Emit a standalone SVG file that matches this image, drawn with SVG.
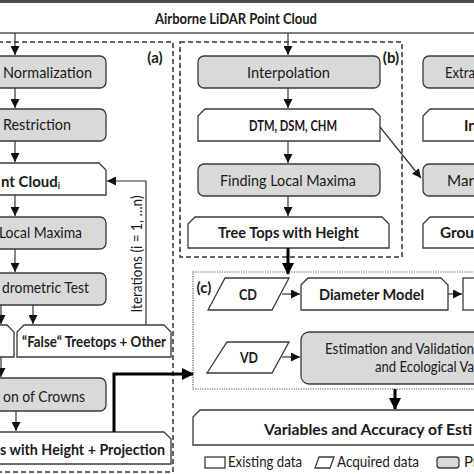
<svg xmlns="http://www.w3.org/2000/svg" width="474" height="474" viewBox="0 0 474 474">
<defs>
<style>
.g{fill:#d9d9d9;stroke:#3a3a3a;stroke-width:1.3}
.w{fill:#fff;stroke:#3a3a3a;stroke-width:1.3}
.t{font-family:Lato,"Liberation Sans",sans-serif;font-size:15px;fill:#1a1a1a}
.b{font-weight:bold}
.ln{stroke:#333;stroke-width:1.2;fill:none}
.thick{stroke:#000;stroke-width:3;fill:none}
.dash{fill:none;stroke:#333;stroke-width:1.5;stroke-dasharray:5 3}
.dot{fill:none;stroke:#555;stroke-width:1.2;stroke-dasharray:1.2 1.2}
</style>
<marker id="a" markerUnits="userSpaceOnUse" markerWidth="9" markerHeight="9" refX="9" refY="4.5" orient="auto"><path d="M0,0 L9,4.5 L0,9 z" fill="#111"/></marker>
<marker id="ta" markerUnits="userSpaceOnUse" markerWidth="12" markerHeight="12" refX="11" refY="6" orient="auto"><path d="M0,0 L12,6 L0,12 z" fill="#000"/></marker>
</defs>
<rect width="474" height="474" fill="#fff"/>
<!-- header -->
<g id="header">
<rect x="0" y="0" width="474" height="3" fill="#4d4d4d"/>
<line x1="0" y1="33" x2="474" y2="33" stroke="#555" stroke-width="1.5"/>
<text class="t b" x="155" y="24" font-size="14" textLength="162" lengthAdjust="spacingAndGlyphs">Airborne LiDAR Point Cloud</text>
</g>
<!-- panels -->
<g id="panelA"><rect class="dash" x="-10" y="42" width="183" height="430"/><text class="t b" x="155" y="63" text-anchor="middle" font-size="16">(a)</text></g>
<g id="panelB"><rect class="dash" x="180" y="42" width="222" height="215"/><text class="t b" x="391" y="63" text-anchor="middle" font-size="16">(b)</text></g>
<g id="panelC"><rect class="dot" x="193" y="272" width="290" height="117"/><text class="t b" x="204" y="293" text-anchor="middle" font-size="16">(c)</text></g>
<!-- left column -->
<g id="normalization"><rect class="g" x="-12" y="56" width="118" height="32" rx="6"/><text class="t" x="3" y="78" textLength="89" lengthAdjust="spacingAndGlyphs">Normalization</text></g>
<g id="restriction"><rect class="g" x="-12" y="109" width="118" height="32" rx="6"/><text class="t" x="3" y="130" textLength="68" lengthAdjust="spacingAndGlyphs">Restriction</text></g>
<g id="pointcloud"><path class="w" d="M-12,163 L99,163 L106,170 L106,195 L-12,195 Z"/><text class="t b" x="1" y="187">nt Cloud<tspan font-size="9" dy="2">i</tspan></text></g>
<g id="localmaxima"><rect class="g" x="-12" y="217" width="118" height="32" rx="6"/><text class="t" x="-1" y="238" textLength="83" lengthAdjust="spacingAndGlyphs">Local Maxima</text></g>
<g id="dendro"><rect class="g" x="-12" y="273" width="118" height="32" rx="6"/><text class="t" x="2" y="293" textLength="87" lengthAdjust="spacingAndGlyphs">drometric Test</text></g>
<g id="trueTops"><path class="w" d="M-12,325 L7,325 L14,332 L14,357 L-12,357 Z"/></g>
<g id="falseTops"><path class="w" d="M17,332 L24,325 L164,325 L171,332 L171,357 L17,357 Z"/><text class="t b" x="22" y="347" textLength="144" lengthAdjust="spacingAndGlyphs">“False“ Treetops + Other</text></g>
<g id="crowns"><rect class="g" x="-12" y="378" width="118" height="33" rx="6"/><text class="t" x="3" y="402" textLength="82" lengthAdjust="spacingAndGlyphs">on of Crowns</text></g>
<g id="final"><path class="w" d="M-12,432 L164,432 L171,439 L171,464 L-12,464 Z"/><text class="t b" x="0" y="455" textLength="165" lengthAdjust="spacingAndGlyphs">s with Height + Projection</text></g>
<!-- middle column -->
<g id="interpolation"><rect class="g" x="198" y="56" width="182" height="32" rx="6"/><text class="t" x="247" y="78" textLength="83" lengthAdjust="spacingAndGlyphs">Interpolation</text></g>
<g id="dtm"><path class="w" d="M198,116 L205,109 L373,109 L380,116 L380,141 L198,141 Z"/><text class="t b" x="249" y="131" textLength="88" lengthAdjust="spacingAndGlyphs">DTM, DSM, CHM</text></g>
<g id="finding"><rect class="g" x="198" y="164" width="182" height="32" rx="6"/><text class="t" x="220" y="186" textLength="136" lengthAdjust="spacingAndGlyphs">Finding Local Maxima</text></g>
<g id="treetops"><path class="w" d="M188,224 L195,217 L382,217 L389,224 L389,248 L188,248 Z"/><text class="t b" x="218" y="238" textLength="141" lengthAdjust="spacingAndGlyphs">Tree Tops with Height</text></g>
<!-- right column -->
<g id="extra"><rect class="g" x="423" y="56" width="70" height="32" rx="6"/><text class="t" x="445" y="78" textLength="30" lengthAdjust="spacingAndGlyphs">Extra</text></g>
<g id="in"><path class="w" d="M423,116 L430,109 L490,109 L490,141 L423,141 Z"/><text class="t b" x="464" y="131">In</text></g>
<g id="mar"><rect class="g" x="423" y="164" width="70" height="32" rx="6"/><text class="t" x="447" y="186" textLength="27" lengthAdjust="spacingAndGlyphs">Mar</text></g>
<g id="grou"><path class="w" d="M423,224 L430,217 L490,217 L490,248 L423,248 Z"/><text class="t b" x="440" y="238" textLength="34" lengthAdjust="spacingAndGlyphs">Grou</text></g>
<!-- panel c -->
<g id="cd"><path class="w" d="M225,278 L289,278 L272,310 L208,310 Z"/><text class="t b" x="239" y="300" textLength="18" lengthAdjust="spacingAndGlyphs">CD</text></g>
<g id="diameter"><path class="w" d="M301,285 L308,278 L441,278 L448,285 L448,310 L301,310 Z"/><text class="t b" x="319" y="300" textLength="105" lengthAdjust="spacingAndGlyphs">Diameter Model</text></g>
<g id="nextbox"><rect class="w" x="463" y="278" width="30" height="32"/></g>
<g id="vd"><path class="w" d="M227,342 L289,342 L272,373 L207,373 Z"/><text class="t b" x="240" y="363" textLength="18" lengthAdjust="spacingAndGlyphs">VD</text></g>
<g id="estimation"><rect class="g" x="301" y="332" width="190" height="52" rx="8"/><text class="t" x="325" y="354" textLength="149" lengthAdjust="spacingAndGlyphs">Estimation and Validation</text><text class="t" x="375" y="372" textLength="99" lengthAdjust="spacingAndGlyphs">and Ecological Va</text></g>
<g id="variables"><path class="w" d="M193,417 L200,410 L490,410 L490,445 L193,445 Z"/><text class="t b" x="264" y="435" font-size="18" textLength="208" lengthAdjust="spacingAndGlyphs">Variables and Accuracy of Esti</text></g>
<!-- legend -->
<g id="legend">
<rect class="w" x="205" y="457" width="20" height="11" stroke-width="1.1"/><text class="t" x="228" y="467" font-size="14" textLength="74" lengthAdjust="spacingAndGlyphs">Existing data</text>
<path class="w" d="M319,457 L334,457 L330,468 L315,468 Z" stroke-width="1.1"/><text class="t" x="337" y="467" font-size="14" textLength="82" lengthAdjust="spacingAndGlyphs">Acquired data</text>
<rect class="g" x="437" y="457" width="22" height="11" rx="3" stroke-width="1.1"/><text class="t" x="464" y="467" font-size="14">Pr</text>
</g>
<!-- connectors -->
<g id="connectors">
<line class="ln" x1="15" y1="33" x2="15" y2="55" marker-end="url(#a)"/>
<line class="ln" x1="15" y1="88" x2="15" y2="108" marker-end="url(#a)"/>
<line class="ln" x1="15" y1="141" x2="15" y2="162" marker-end="url(#a)"/>
<line class="ln" x1="15" y1="195" x2="15" y2="216" marker-end="url(#a)"/>
<line class="ln" x1="15" y1="249" x2="15" y2="272" marker-end="url(#a)"/>
<line class="ln" x1="1" y1="305" x2="1" y2="324" marker-end="url(#a)"/>
<line class="ln" x1="33" y1="305" x2="33" y2="324" marker-end="url(#a)"/>
<line class="ln" x1="1" y1="357" x2="1" y2="377" marker-end="url(#a)"/>
<line class="ln" x1="16" y1="411" x2="16" y2="431" marker-end="url(#a)"/>
<polyline class="ln" points="146,325 146,181 107,181" stroke="#666" marker-end="url(#a)"/>
<text class="t" x="0" y="0" font-size="14" text-anchor="middle" textLength="117" lengthAdjust="spacingAndGlyphs" transform="translate(142,254) rotate(-90)">Iterations (i = 1, …n)</text>
<polyline class="thick" points="114,432 114,374 193,374" marker-end="url(#ta)"/>
<line class="ln" x1="288" y1="33" x2="288" y2="55" marker-end="url(#a)"/>
<line class="ln" x1="288" y1="88" x2="288" y2="108" marker-end="url(#a)"/>
<line class="ln" x1="288" y1="141" x2="288" y2="163" marker-end="url(#a)"/>
<line class="ln" x1="288" y1="196" x2="288" y2="216" marker-end="url(#a)"/>
<line class="thick" x1="288" y1="248" x2="288" y2="274" marker-end="url(#ta)"/>
<line class="ln" x1="380" y1="127" x2="421" y2="178" stroke="#666" marker-end="url(#a)"/>
<line class="ln" x1="282" y1="294" x2="300" y2="294" marker-end="url(#a)"/>
<line class="ln" x1="448" y1="294" x2="462" y2="294" marker-end="url(#a)"/>
<line class="ln" x1="282" y1="357" x2="300" y2="357" marker-end="url(#a)"/>
<line class="thick" x1="395" y1="389" x2="395" y2="409" marker-end="url(#ta)"/>
</g>
</svg>
